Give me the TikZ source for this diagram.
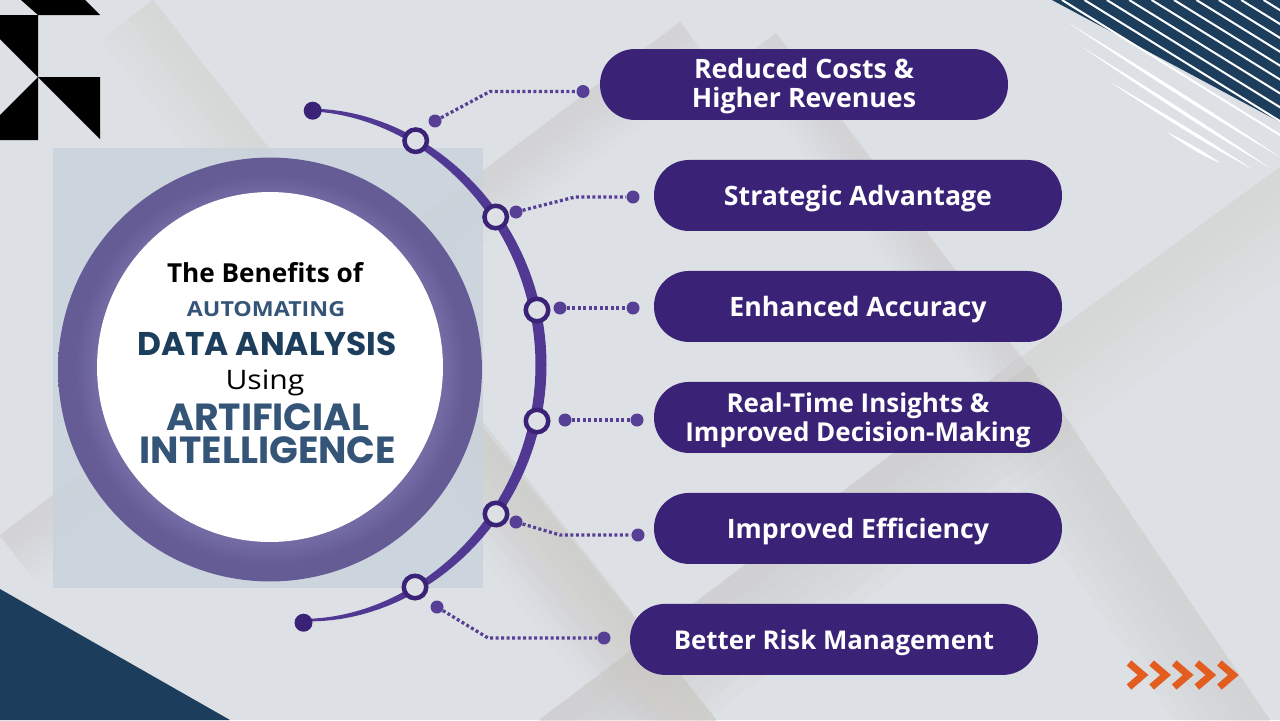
\documentclass[tikz,border=0pt]{standalone}
\usepackage{fontspec}
\setmainfont{Open Sans}
\newfontfamily\spartanfont{Poppins}
\newfontfamily\widefont[FakeStretch=1.12]{Open Sans}
\usetikzlibrary{shapes.geometric, positioning, calc}
\definecolor{slidegray}{HTML}{DDE0E4}
\definecolor{shadowgray}{HTML}{C4C2BE}
\definecolor{boxblue}{HTML}{C8D2DC}
\definecolor{pillpurple}{HTML}{3A2377}
\definecolor{arcpurple}{HTML}{503893}
\definecolor{dotpurple}{HTML}{573F95}
\definecolor{ringpurple}{HTML}{655C96}
\definecolor{ringlightpurple}{HTML}{736BA3}
\definecolor{navy}{HTML}{1C3D5B}
\definecolor{titleblue}{HTML}{355578}
\definecolor{chevronorange}{HTML}{E35D20}
\pgfdeclareradialshading{ringshade}{\pgfpointorigin}{color(0bp)=(ringlightpurple); color(20.6bp)=(ringlightpurple); color(23bp)=(ringpurple); color(25bp)=(ringpurple); color(50bp)=(ringpurple)}
\newcommand{\softband}[7]{%
    \foreach \t in {1,0.87,...,0.1}
        \fill[shadowgray, opacity=#1] (#2,#3) -- (#4,#5) -- ++(\t*#6,\t*#7) -- ($(#2,#3)+(\t*#6,\t*#7)$) -- cycle;
}

\begin{document}
\begin{tikzpicture}[x=0.02cm, y=-0.02cm, node distance=0.8cm,
                    declare function={arcr(\a)=264-6.5*pow(abs(\a)/82,6); arcw(\a)=1+10*pow(cos(\a),0.9);},
                    benefit/.style={rectangle, fill=pillpurple, text=white, align=center, rounded corners=0.7cm, minimum height=1.42cm, minimum width=8.16cm, inner sep=0pt, outer sep=0pt, text depth=0pt, font=\fontsize{15.2}{16.6}\selectfont\bfseries},
                    ring/.style={circle, draw=pillpurple, line width=0.09cm, fill=slidegray, minimum size=0.45cm, inner sep=0pt},
                    enddot/.style={circle, fill=pillpurple, minimum size=0.36cm, inner sep=0pt},
                    linkdot/.style={circle, fill=dotpurple, minimum size=0.26cm, inner sep=0pt},
                    link/.style={draw=dotpurple, line width=0.065cm, dash pattern=on 0.06cm off 0.05cm},
                    titleline/.style={anchor=base, inner sep=0pt}]

    \useasboundingbox (0,0) rectangle (1280,720);

    % Background
    \fill[slidegray] (0,0) rectangle (1280,720);
    \softband{0.035}{153}{0}{720}{725}{-52}{40}
    \softband{0.05}{400}{325}{720}{725}{-65}{50}
    \fill[slidegray] (585,683) -- (540,720) -- (400,720) -- (400,683) -- cycle;
    \softband{0.05}{0}{535}{680}{22}{36}{48}
    \softband{0.05}{776}{33}{1021}{357}{-40}{30}
    \softband{0.035}{1021}{357}{1280}{167}{54}{72}
    \softband{0.055}{1030}{365}{1280}{735}{-66}{45}
    \softband{0.075}{539}{720}{1021}{357}{60}{80}

    % Corner shapes
    \fill[black] (21,0) -- (38,15) -- (100,15) -- (85,0) -- cycle;
    \fill[black] (0,15) -- (38,15) -- (38,77) -- (0,39) -- cycle;
    \fill[black] (38,77) -- (100,77) -- (100,139) -- cycle;
    \fill[black] (38,77) -- (38,140) -- (0,140) -- (0,115) -- cycle;
    \fill[navy] (0,589) -- (230,720) -- (0,720) -- cycle;
    \fill[navy] (1052,0) -- (1280,122) -- (1280,0) -- cycle;
    \foreach \startx in {0,...,10}
        \draw[white, line width=0.04cm] ({1062+22.4*\startx},0) -- ++(218,135);
    \foreach \ax/\ay/\bx/\by in {1067/22/1280/157, 1082/47/1270/168, 1110/82/1252/169, 1167/132/1220/163}
        \fill[white] (\ax,\ay) .. controls ($(\ax,\ay)!0.4!(\bx,\by)+(-1,2.5)$) and ($(\ax,\ay)!0.7!(\bx,\by)+(-1,2.5)$) .. (\bx,\by)
            .. controls ($(\ax,\ay)!0.7!(\bx,\by)+(1,-1.5)$) and ($(\ax,\ay)!0.4!(\bx,\by)+(1,-1.5)$) .. (\ax,\ay) -- cycle;
    \foreach \i in {0,...,4}
        \draw[chevronorange, line width=0.14cm, miter limit=4] ({1129+22.6*\i},663) -- ({1143+22.6*\i},675) -- ({1129+22.6*\i},687);

    % Circle
    \fill[boxblue, opacity=0.8] (53,148) rectangle (483,588);
    \node[circle, minimum size=8.48cm, inner sep=0pt, shading=ringshade] (outer) at (270,369.5) {};
    \node[ellipse, fill=white, minimum width=6.92cm, minimum height=7cm, inner sep=0pt] (disc) at (270,367) {};

    % Title
    \node[titleline, font=\fontsize{14.9}{16}\selectfont\bfseries, text=black] (benefits) at (265,282) {The Benefits of};
    \node[titleline, font=\fontsize{11.8}{13}\widefont\bfseries, text=titleblue] (automating) at (266,316) {AUTOMATING};
    \node[titleline, font=\fontsize{18.7}{20}\spartanfont\bfseries, text=navy] (analysis) at (267,355) {DATA ANALYSIS};
    \node[titleline, font=\fontsize{15.3}{17}\widefont, text=black] (using) at (265,389) {Using};
    \node[titleline, align=center, font=\fontsize{21.5}{18.7}\spartanfont\bfseries, text=titleblue] (intelligence) at (268,463) {ARTIFICIAL\\INTELLIGENCE};

    % Arc
    \fill[arcpurple] plot[domain=-82:84, samples=80] ({277+(arcr(\x)+0.5*arcw(\x))*cos(\x)}, {365+(arcr(\x)+0.5*arcw(\x))*sin(\x)})
        -- plot[domain=84:-82, samples=80] ({277+(arcr(\x)-0.5*arcw(\x))*cos(\x)}, {365+(arcr(\x)-0.5*arcw(\x))*sin(\x)}) -- cycle;
    \node[enddot] (top) at (312.7,110.7) {};
    \node[enddot] (bottom) at (303.5,622.7) {};
    \node[ring] (ring1) at (415.7,140.7) {};
    \node[ring] (ring2) at (495.7,217) {};
    \node[ring] (ring3) at (537,310) {};
    \node[ring] (ring4) at (537,421) {};
    \node[ring] (ring5) at (496,514) {};
    \node[ring] (ring6) at (415,587) {};

    % Benefits
    \node[benefit, text depth=2pt] (costs) at (804,84.5) {Reduced Costs \&\\Higher Revenues};
    \node[benefit, below=of costs, xshift=1.08cm] (advantage) {Strategic Advantage};
    \node[benefit, below=of advantage] (accuracy) {Enhanced Accuracy};
    \node[benefit, below=of accuracy, font=\fontsize{14.8}{16.6}\selectfont\bfseries] (insights) {Real-Time Insights \&\\Improved Decision-Making};
    \node[benefit, below=of insights] (efficiency) {Improved Efficiency};
    \node[benefit, below=of efficiency, xshift=-0.48cm, font=\fontsize{14.7}{16.6}\selectfont\bfseries] (risk) {Better Risk Management};

    % Dots
    \node[linkdot] (costsin) at (435,121) {};
    \node[linkdot] (costsout) at (583,91.5) {};
    \node[linkdot] (advantagein) at (516,212) {};
    \node[linkdot] (advantageout) at (633,197) {};
    \node[linkdot] (accuracyin) at (560,308) {};
    \node[linkdot] (accuracyout) at (633,308) {};
    \node[linkdot] (insightsin) at (565,420) {};
    \node[linkdot] (insightsout) at (637,420) {};
    \node[linkdot] (efficiencyin) at (516,522) {};
    \node[linkdot] (efficiencyout) at (638,535) {};
    \node[linkdot] (riskin) at (437,607) {};
    \node[linkdot] (riskout) at (604,638) {};
    \coordinate (costsbend) at (490,91.5);
    \coordinate (advantagebend) at (575,197);
    \coordinate (efficiencybend) at (560,535);
    \coordinate (riskbend) at (488,638);

    % Connecting lines
    \draw[link] (costsin) -- (costsbend) -- (costsout);
    \draw[link] (advantagein) -- (advantagebend) -- (advantageout);
    \draw[link] (accuracyin) -- (accuracyout);
    \draw[link] (insightsin) -- (insightsout);
    \draw[link] (efficiencyin) -- (efficiencybend) -- (efficiencyout);
    \draw[link] (riskin) -- (riskbend) -- (riskout);

\end{tikzpicture}
\end{document}
